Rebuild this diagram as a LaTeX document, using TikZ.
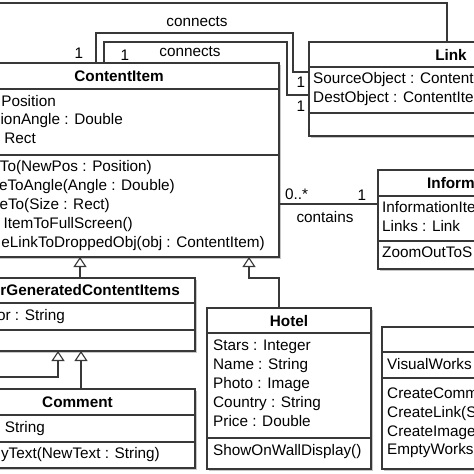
\documentclass[tikz,border=0pt]{standalone}
\usepackage{fontspec}
\setmainfont{Liberation Sans}
\usetikzlibrary{arrows.meta,shadows}
\colorlet{linec}{black!78}
\begin{document}
\begin{tikzpicture}[x=1pt,y=-1pt,
  font=\fontsize{15.3}{18}\selectfont,
  box/.style={draw=linec, line width=1.15pt, fill=white, inner sep=0pt, outer sep=0pt, anchor=north west,
    drop shadow={shadow xshift=2pt, shadow yshift=-2pt, fill=black!22, opacity=1}},
  sepline/.style={draw=linec, line width=1.15pt},
  conn/.style={draw=linec, line width=1.15pt},
  inh/.style={conn, -{Triangle[open, length=10pt, width=13pt, fill=white]}},
  txt/.style={inner sep=0pt, anchor=mid west, yshift=-2pt},
  rtxt/.style={inner sep=0pt, anchor=mid east, yshift=-2pt},
  ttl/.style={inner sep=0pt, font=\fontsize{15.3}{18}\selectfont\bfseries},
]
\useasboundingbox (0,0) rectangle (474,474);
\clip (0,0) rectangle (474,474);
\fill[white] (0,0) rectangle (474,474);

% boxes
\node[box, minimum width=320pt, minimum height=194pt] (ci) at (-41,63) {};
\node[box, minimum width=300pt, minimum height=94pt] (link) at (309,42) {};
\node[box, minimum width=200pt, minimum height=99pt] (inf) at (378,170) {};
\node[box, minimum width=235pt, minimum height=73pt] (ug) at (-40,278) {};
\node[box, minimum width=235pt, minimum height=79pt] (cm) at (-40,389) {};
\node[box, minimum width=164pt, minimum height=161pt] (ho) at (207,308) {};
\node[box, minimum width=200pt, minimum height=142pt] (vw) at (382,327) {};

% separators
\draw[sepline] (ci.west |- 0,89) -- (ci.east |- 0,89);
\draw[sepline] (ci.west |- 0,155) -- (ci.east |- 0,155);
\draw[sepline] (link.west |- 0,67) -- (link.east |- 0,67);
\draw[sepline] (link.west |- 0,113) -- (link.east |- 0,113);
\draw[sepline] (inf.west |- 0,196) -- (inf.east |- 0,196);
\draw[sepline] (inf.west |- 0,241) -- (inf.east |- 0,241);
\draw[sepline] (ug.west |- 0,303) -- (ug.east |- 0,303);
\draw[sepline] (ug.west |- 0,330) -- (ug.east |- 0,330);
\draw[sepline] (cm.west |- 0,415) -- (cm.east |- 0,415);
\draw[sepline] (cm.west |- 0,442) -- (cm.east |- 0,442);
\draw[sepline] (ho.west |- 0,333) -- (ho.east |- 0,333);
\draw[sepline] (ho.west |- 0,438) -- (ho.east |- 0,438);
\draw[sepline] (vw.west |- 0,352) -- (vw.east |- 0,352);
\draw[sepline] (vw.west |- 0,378) -- (vw.east |- 0,378);

% connectors
\coordinate (topl) at (-20,3);
\coordinate (offl) at (-20,377);
\draw[conn] (link.north -| 447,0) |- (topl);
\draw[conn] (ci.north -| 96,0) |- (293,33) |- (link.west |- 0,72);
\draw[conn] (ci.north -| 104,0) |- (287,42) |- (link.west |- 0,95);
\draw[conn] (ci.east |- 0,204) -- (inf.west |- 0,204);
\draw[inh] (ug.north -| 80,0) -- (ci.south -| 80,0);
\draw[inh] (ho.north -| 279,0) |- (249,278) -- (ci.south -| 249,0);
\draw[inh] (cm.north -| 81,0) -- (ug.south -| 81,0);
\draw[inh] (offl) -| (ug.south -| 58,0);

% connector labels
\node[inner sep=0pt] (l1) at (197,22) {connects};
\node[inner sep=0pt] (l2) at (79,53) {1};
\node[inner sep=0pt] (l3) at (125,55) {1};
\node[inner sep=0pt] (l4) at (190,52) {connects};
\node[inner sep=0pt] (l5) at (301,82) {1};
\node[inner sep=0pt] (l6) at (301,106) {1};
\node[txt] (l7) at (285,195) {0..*};
\node[inner sep=0pt] (l8) at (362,195) {1};
\node[inner sep=0pt] (l9) at (325,217) {contains};

% ContentItem
\node[ttl] (cit) at (119,76) {ContentItem};
\node[rtxt] (ca1) at (56,102) {Position};
\node[rtxt] (ca2) at (123,120) {ionAngle : Double};
\node[rtxt] (ca3) at (36,139) {Rect};
\node[rtxt] (cm1) at (152,167) {To(NewPos : Position)};
\node[rtxt] (cm2) at (175,186) {eToAngle(Angle : Double)};
\node[rtxt] (cm3) at (110,205) {eTo(Size : Rect)};
\node[rtxt] (cm4) at (133,224) {ItemToFullScreen()};
\node[rtxt] (cm5) at (265,243) {eLinkToDroppedObj(obj : ContentItem)};

% Link
\node[ttl] (lkt) at (451,55) {Link};
\node[txt] (lk1) at (313,79) {SourceObject : Content};
\node[txt] (lk2) at (313,98) {DestObject : ContentIte};

% Inform
\node[ttl, anchor=west] (ift) at (427,183) {Inform};
\node[txt] (if1) at (382,208) {InformationIte};
\node[txt] (if2) at (382,227) {Links : Link};
\node[txt] (if3) at (382,253) {ZoomOutToS};

% UserGenerated
\node[ttl, anchor=east] (ugt) at (180,290) {rGeneratedContentItems};
\node[rtxt] (ug1) at (65,316) {or : String};

% Comment
\node[ttl] (cmt) at (77.5,402) {Comment};
\node[rtxt] (cm6) at (45,428) {String};
\node[rtxt] (cm7) at (160,454) {yText(NewText : String)};

% Hotel
\node[ttl] (hot) at (289,321) {Hotel};
\node[txt] (h1) at (213,346) {Stars : Integer};
\node[txt] (h2) at (213,365) {Name : String};
\node[txt] (h3) at (213,384) {Photo : Image};
\node[txt] (h4) at (213,403) {Country : String};
\node[txt] (h5) at (213,422) {Price : Double};
\node[txt] (h6) at (213,451) {ShowOnWallDisplay()};

% right box
\node[txt] (v1) at (387,365) {VisualWorks};
\node[txt] (v2) at (387,394) {CreateComm};
\node[txt] (v3) at (387,413) {CreateLink(S};
\node[txt] (v4) at (387,432) {CreateImage};
\node[txt] (v5) at (387,450) {EmptyWorks};
\end{tikzpicture}
\end{document}
